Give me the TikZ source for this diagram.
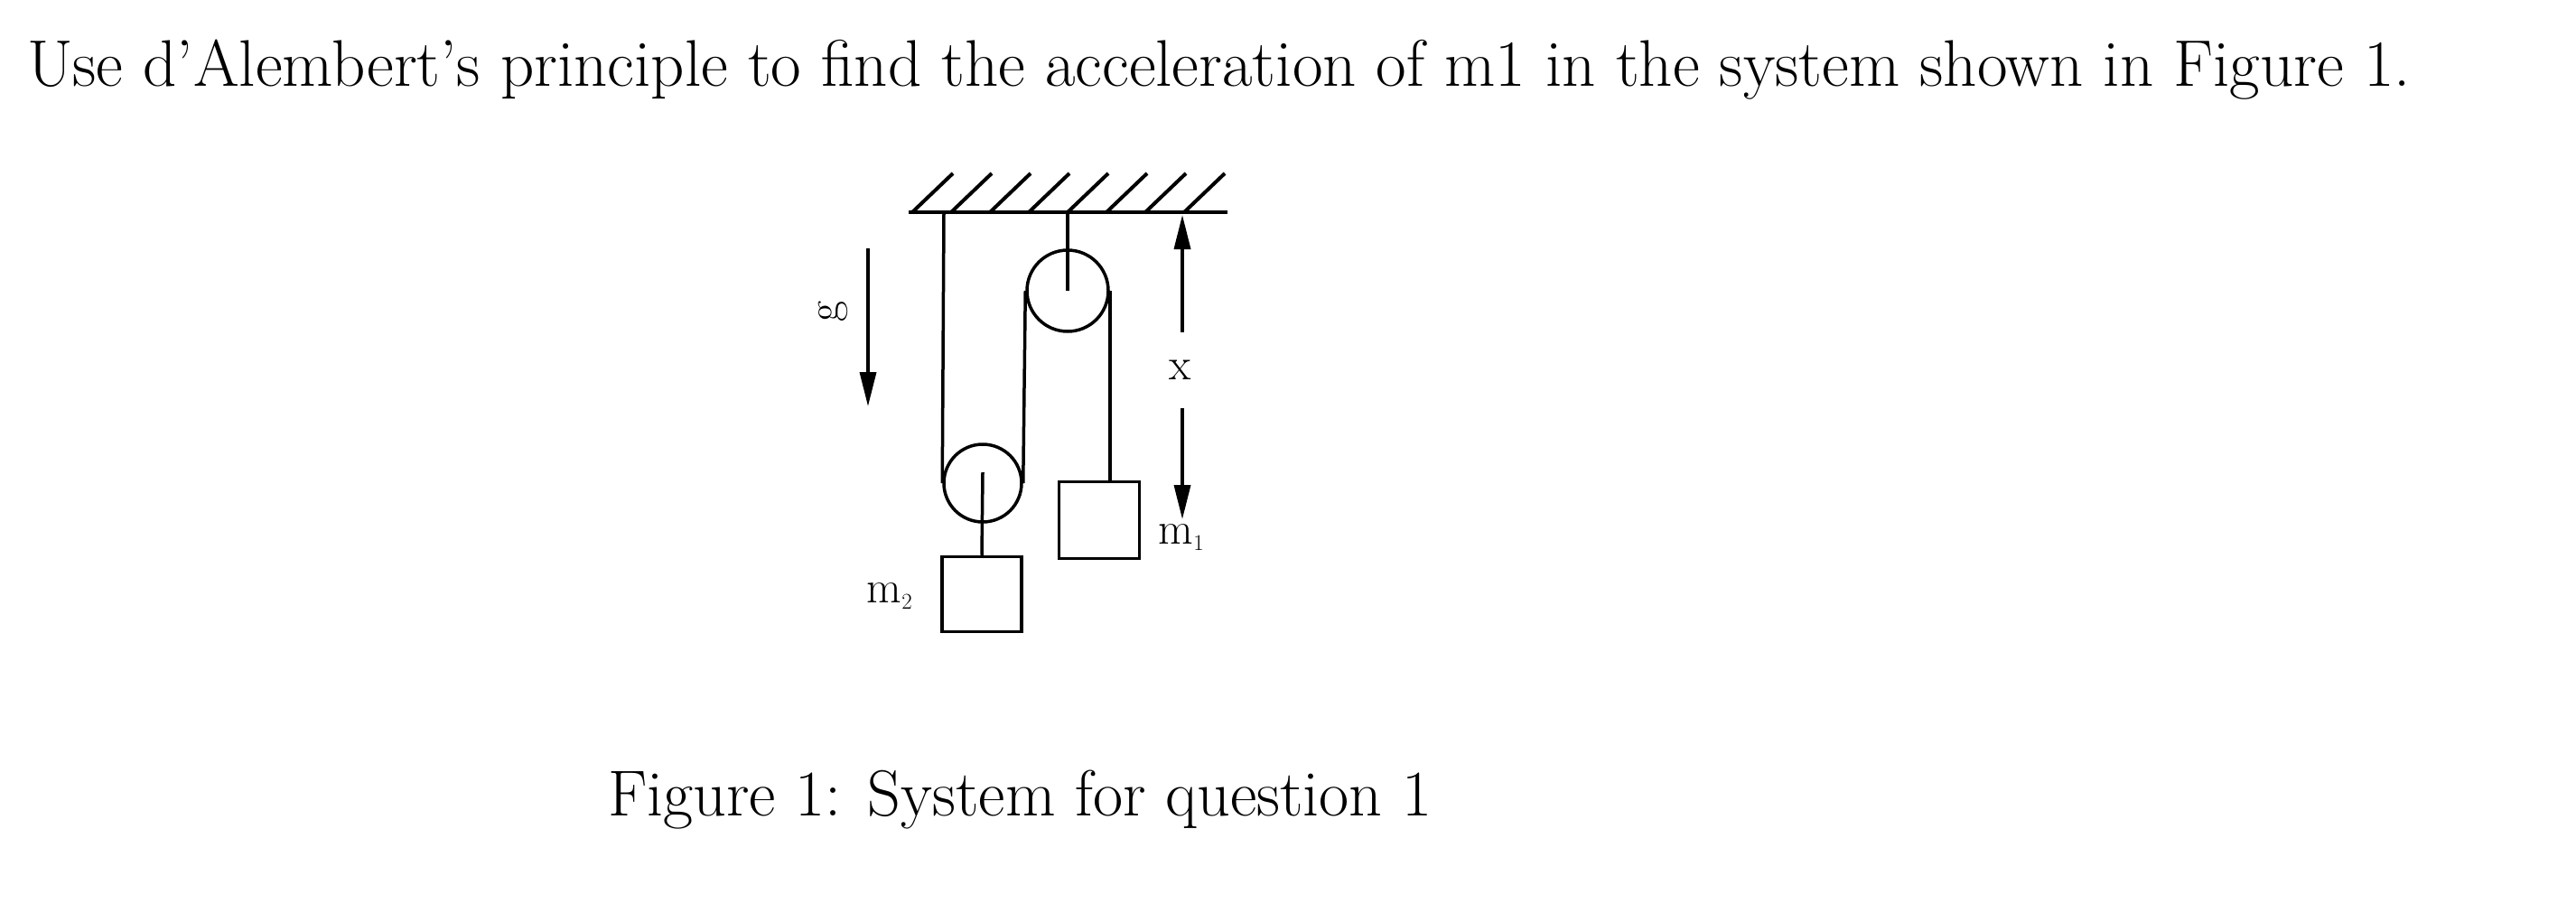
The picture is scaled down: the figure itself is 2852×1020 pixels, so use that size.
\documentclass[tikz,border=0pt]{standalone}
\usetikzlibrary{arrows.meta}
\begin{document}
\begin{tikzpicture}[x=1pt,y=-1pt,
  rope/.style={line width=3.5pt},
  arr/.style={line width=3.5pt,-{Triangle[length=38pt,width=18pt]}},
  lbl/.style={font=\fontsize{50}{54}\selectfont,inner sep=0pt}]
\useasboundingbox (0,0) rectangle (2852,1020);
\node[anchor=west,inner sep=0pt,font=\fontsize{73}{80}\selectfont] (title) at (30,77) {Use d'Alembert's principle to find the acceleration of m1 in the system shown in Figure 1.};
% ceiling
\coordinate (cl) at (1006,235); \coordinate (cr) at (1359,235);
\draw[rope] (cl) -- (cr);
\foreach \i in {0,...,7} \draw[line width=4pt] (1010+\i*43,235) -- (1055+\i*43,192);
% pulleys
\node[draw,circle,line width=3.5pt,minimum size=90pt,inner sep=0pt] (pt) at (1182,322) {};
\node[draw,circle,line width=3.5pt,minimum size=86pt,inner sep=0pt] (pb) at (1088,535) {};
\coordinate (ha) at (1182,235);
\draw[rope] (ha) -- (pt.center);
% boxes
\node[draw,line width=3.5pt,minimum width=89pt,minimum height=85pt,inner sep=0pt] (m1) at (1217,576) {};
\node[draw,line width=3.5pt,minimum width=88pt,minimum height=83pt,inner sep=0pt] (m2) at (1087,658) {};
% ropes
\coordinate (ra) at (1045,235);
\draw[rope] (ra) -- (pb.west);
\draw[rope] (pb.east) -- (pt.west);
\draw[rope] (pt.east) -- (pt.east |- m1.north);
\draw[rope] (pb.center) ++(0,-12) -- (m2.north);
% g arrow
\coordinate (g1) at (961,275); \coordinate (g2) at (961,450);
\draw[arr] (g1) -- (g2);
\node[lbl,rotate=90] (g) at (922,345) {g};
% x arrows
\coordinate (x0) at (1309,238); \coordinate (x1) at (1309,368);
\coordinate (x2) at (1309,452); \coordinate (x3) at (1309,575);
\draw[arr] (x1) -- (x0);
\draw[arr] (x2) -- (x3);
\node[lbl] (x) at (1307,410) {x};
\node[lbl] (m1l) at (1308,595) {m$_{\scriptscriptstyle 1}$};
\node[lbl] (m2l) at (985,660) {m$_2$};
\node[anchor=west,inner sep=0pt,font=\fontsize{72}{80}\selectfont] (cap) at (673,886) {Figure 1: System for question 1};
\end{tikzpicture}
\end{document}
